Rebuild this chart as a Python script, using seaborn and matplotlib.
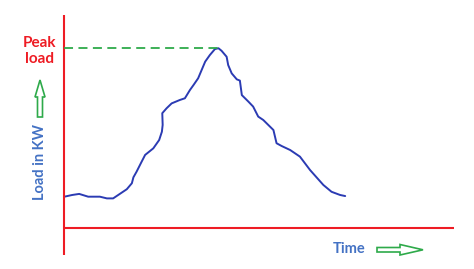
import matplotlib
matplotlib.use("Agg")
import matplotlib.pyplot as plt
import matplotlib.transforms as mtransforms
from matplotlib.patches import Polygon
import seaborn as sns
import pandas as pd

# data (time in arbitrary units, load in arbitrary units)
time = [0.1, 2.1, 3.9, 6.2, 9.2, 11.0, 12.6, 13.9, 16.1, 17.4, 17.8, 18.6, 19.9,
        20.8, 22.9, 24.4, 25.1, 25.3, 25.2, 26.3, 27.6, 29.7, 31.0, 32.3, 33.2,
        34.4, 35.3, 36.2, 37.4, 38.7, 39.6, 40.4, 41.7, 42.1, 43.0, 44.3, 45.1,
        45.6, 47.3, 48.5, 49.8, 51.1, 53.7, 54.5, 55.8, 58.0, 60.5, 63.1, 66.5,
        68.6, 70.8, 72.1]
load = [14.7, 15.5, 16.0, 14.7, 14.7, 13.9, 13.9, 15.5, 18.2, 21.0, 23.8, 26.4, 31.1,
        34.3, 37.4, 41.3, 45.2, 48.4, 53.9, 56.2, 58.5, 60.1, 60.9, 64.8, 67.1,
        70.3, 74.2, 78.1, 81.2, 84.0, 84.4, 83.2, 80.4, 76.5, 72.6, 69.8, 69.2,
        62.4, 59.3, 57.0, 52.3, 50.7, 46.0, 39.8, 38.5, 36.6, 33.5, 27.2, 20.2,
        17.0, 15.5, 15.0]
y_label = "Load in KW"
x_label = "Time"
peak_label = "Peak\nload"

sns.set_theme(style="white")
plt.rcParams['font.family'] = ['Lato', 'DejaVu Sans']

fig = plt.figure(figsize=(4.74, 2.69), dpi=100)
ax = fig.add_axes([0, 0, 1, 1])
ax.set_xlim(-16.41, 105.13)
ax.set_ylim(-19.25, 107.04)
for s in ax.spines.values():
    s.set_visible(False)
ax.set_xticks([]); ax.set_yticks([])

df = pd.DataFrame({"time": time, "load": load})
sns.lineplot(data=df, x="time", y="load", ax=ax, color="#2B3BB3", lw=1.4, sort=False,
             solid_joinstyle="round", solid_capstyle="round")

red = "#EE1C24"
ax.plot([0, 0], [-12.7, 100], color=red, lw=1.5, solid_capstyle="butt")
ax.plot([0, 100], [0, 0], color=red, lw=1.5, solid_capstyle="butt")

peak_i = load.index(max(load))
ax.plot([0, time[peak_i]], [load[peak_i], load[peak_i]], color="#2EAA4A",
        lw=1.3, ls=(0, (5, 3)))

# pixel transform (top-left origin)
pix = mtransforms.Affine2D().scale(0.01, -0.01).translate(0, 2.69) + fig.dpi_scale_trans

fig.text(39.5, 51, peak_label, transform=pix, color=red, fontsize=11,
         fontweight="bold", ha="center", va="center", linespacing=1.2)
fig.text(40, 162, y_label, transform=pix, color="#4472C4", fontsize=10.5,
         fontweight="bold", ha="center", va="center", rotation=90)
fig.text(349, 249, x_label, transform=pix, color="#4472C4", fontsize=10.5,
         fontweight="bold", ha="center", va="center")

green = "#2EAA4A"
up = [(37.5, 117), (42.5, 117), (42.5, 97), (45, 97), (40, 80), (35, 97), (37.5, 97)]
fig.patches.append(Polygon(up, closed=True, transform=pix, facecolor="white",
                           edgecolor=green, lw=1.2))
right = [(377, 247.5), (400, 247.5), (400, 244.5), (423, 249.8), (400, 255),
         (400, 252), (377, 252)]
fig.patches.append(Polygon(right, closed=True, transform=pix, facecolor="white",
                           edgecolor=green, lw=1.2))

fig.savefig("out.png", dpi=100)
